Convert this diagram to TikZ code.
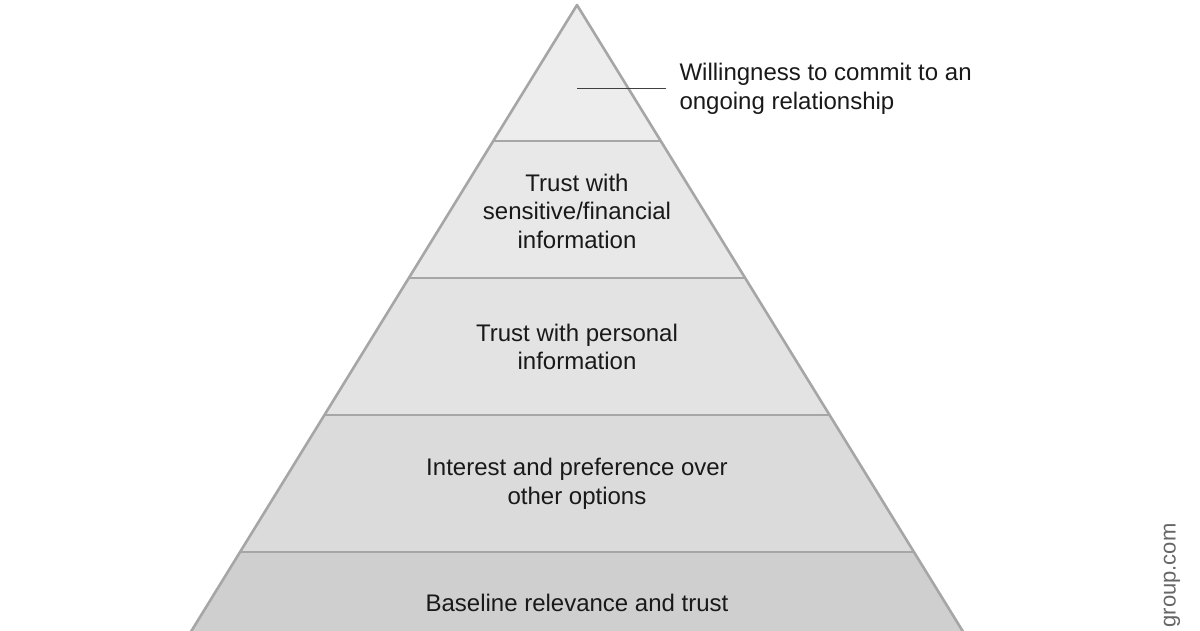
\documentclass[tikz,border=0pt]{standalone}
\usepackage{fontspec}
\setmainfont{Liberation Sans}
\begin{document}
\begin{tikzpicture}[x=1pt,y=-1pt,
  band/.style={draw=black!35,line width=2.6pt,line join=round},
  lab/.style={align=center,font=\fontsize{24}{28.5}\selectfont,text=black!90}]
\useasboundingbox (0,0) rectangle (1200,630);
\clip (0,0) rectangle (1200,630);
\def\L#1{577-0.616*(#1-5)}
\def\R#1{577+0.616*(#1-5)}
\fill[fill=black!19] ({\L{552}},552) -- ({\R{552}},552) -- ({\R{650}},650) -- ({\L{650}},650) -- cycle;
\fill[fill=black!14] ({\L{415}},415) -- ({\R{415}},415) -- ({\R{552}},552) -- ({\L{552}},552) -- cycle;
\fill[fill=black!11] ({\L{278}},278) -- ({\R{278}},278) -- ({\R{415}},415) -- ({\L{415}},415) -- cycle;
\fill[fill=black!9] ({\L{141}},141) -- ({\R{141}},141) -- ({\R{278}},278) -- ({\L{278}},278) -- cycle;
\fill[fill=black!7] (577,5) -- ({\R{141}},141) -- ({\L{141}},141) -- cycle;
\draw[band] ({\L{650}},650) -- (577,5) -- ({\R{650}},650);
\foreach \y in {141,278,415,552} \draw[band] ({\L{\y}},\y) -- ({\R{\y}},\y);
\coordinate (a) at (577,88);
\node[lab,align=left,anchor=west] (top) at (676,89) {Willingness to commit to an\\ongoing relationship};
\draw[black!75,line width=1pt] (a) -- (666,88);
\node[lab] (b2) at (577,211) {Trust with\\sensitive/financial\\information};
\node[lab] (b3) at (577,347) {Trust with personal\\information};
\node[lab] (b4) at (577,484) {Interest and preference over\\other options};
\node[lab,anchor=north] (b5) at (577,591) {Baseline relevance and trust};
\node[rotate=90,anchor=east,font=\fontsize{22}{24}\selectfont,text=black!60] (w) at (1172,520) {group.com};
\end{tikzpicture}
\end{document}
